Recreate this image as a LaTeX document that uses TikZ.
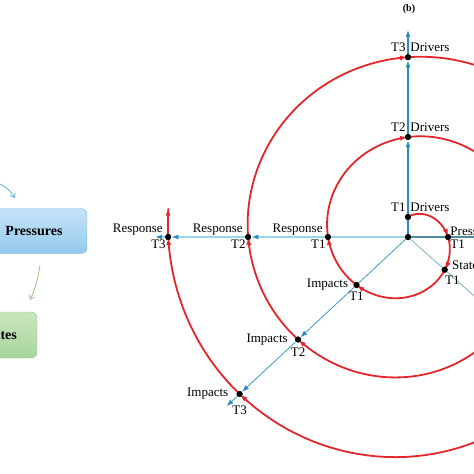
\documentclass[tikz,border=0pt]{standalone}
\usepackage{fontspec}
\setmainfont{Liberation Serif}
\usetikzlibrary{arrows.meta,positioning}
\definecolor{spiralred}{HTML}{E3262B}
\definecolor{axisblue}{HTML}{2A8CC4}
\definecolor{resplight}{HTML}{9AD6EA}
\definecolor{pressteal}{HTML}{4E8C98}
\definecolor{stategrey}{HTML}{8DB8C0}
\definecolor{impteal}{HTML}{3A9CC0}
\definecolor{boxtop}{HTML}{C6E4F8}
\definecolor{boxbot}{HTML}{93C9EC}
\definecolor{boxline}{HTML}{7DB6DC}
\definecolor{greentop}{HTML}{C8E6BE}
\definecolor{greenbot}{HTML}{A8D59C}
\definecolor{greenline}{HTML}{92C787}
\tikzset{
  dot/.style={circle,fill=black,inner sep=0pt,minimum size=6pt},
  lbl/.style={inner sep=0pt,font=\fontsize{13}{15}\selectfont},
  spiral/.style={spiralred,line width=1.8pt,-{Latex[length=8pt,width=5pt]}},
  axtip/.style={-{Latex[length=7pt,width=5pt,color=axisblue]}}
}
\begin{document}
\begin{tikzpicture}[x=1pt,y=1pt]
    \useasboundingbox (-408,-237) rectangle (66,237);
    \clip (-408,-237) rectangle (66,237);
    % left flow chart, cut at the edge
    \node [rounded corners=6pt,draw=boxline,top color=boxtop,bottom color=boxbot,
           minimum width=106pt,minimum height=45pt,font=\fontsize{14}{16}\selectfont\bfseries] (press) at (-374,6) {Pressures};
    \node [rounded corners=6pt,draw=greenline,top color=greentop,bottom color=greenbot,
           minimum width=76pt,minimum height=46pt,font=\fontsize{14}{16}\selectfont\bfseries] (states) at (-409,-98) {States};
    \coordinate (flowin) at (-425,56);
    \coordinate (flowtip) at (-393,39);
    \draw [impteal!80,line width=0.8pt,-{Straight Barb[length=4pt,width=6pt]}] (flowin) to[bend left=30] (flowtip);
    \coordinate (gfrom) at (-368,-28);
    \coordinate (gto) at (-378,-63);
    \draw [greenline,line width=0.8pt,-{Straight Barb[length=4pt,width=6pt]}] (gfrom) to[bend left=8] (gto);
    \node [inner sep=0pt,font=\fontsize{10}{11}\selectfont\bfseries] (title) at (1,228) {(b)};
    % points on the spiral
    \node [dot] (O) at (0,0) {};
    \node [dot] (D1) at (90:20) {};
    \node [dot] (P1) at (0:40) {};
    \node [dot] (S1) at (-41.7:49.2) {};
    \node [dot] (I1) at (223:70.4) {};
    \node [dot] (R1) at (180:80) {};
    \node [dot] (D2) at (90:100) {};
    \node [dot] (I2) at (223:150.3) {};
    \node [dot] (R2) at (180:159.9) {};
    \node [dot] (D3) at (90:179.8) {};
    \node [dot] (I3) at (223:230.2) {};
    \node [dot] (R3) at (180:239.8) {};
    \coordinate (Dend) at (90:207);
    \coordinate (Pend) at (0:80);
    \coordinate (Send) at (-41.7:120);
    \coordinate (Iend) at (223:248);
    \coordinate (Rend) at (180:253);
    % axes
    \draw [pressteal,line width=1.4pt] (O) -- (Pend);
    \draw [stategrey,line width=0.9pt] (O) -- (Send);
    \draw [axisblue,line width=1.2pt] (O) -- (D1);
    \draw [axisblue,line width=1.2pt,axtip] (D1) -- (D2);
    \draw [axisblue,line width=1.2pt,axtip] (D2) -- (D3);
    \draw [axisblue,line width=1.2pt,axtip] (D3) -- (Dend);
    \draw [resplight,line width=1.3pt] (O) -- (R1);
    \draw [resplight,line width=1.3pt,axtip] (R1) -- (R2);
    \draw [resplight,line width=1.3pt,axtip] (R2) -- (R3);
    \draw [resplight,line width=1.3pt,axtip] (R3) -- (Rend);
    \draw [impteal,line width=0.8pt] (O) -- (I1);
    \draw [impteal,line width=0.8pt,axtip] (I1) -- (I2);
    \draw [impteal,line width=0.8pt,axtip] (I2) -- (I3);
    \draw [impteal,line width=0.8pt,axtip] (I3) -- (Iend);
    % spiral, one piece per step
    \foreach \a/\b in {0/90,90/131.7,131.7/227,227/270,270/360,360/450,450/491.7,491.7/587,
                       587/630,630/720,720/810,810/851.7,851.7/947,947/990,990/997}
        \draw [spiral] plot[domain=\a:\b,samples=40] ({(20+0.222*\x)*sin(\x)},{(20+0.222*\x)*cos(\x)});
    \foreach \p in {O,D1,P1,S1,I1,R1,D2,I2,R2,D3,I3,R3}
        \fill (\p) circle (3pt);
    % labels
    \node [lbl,above left=3pt and 0pt of D1] (d1t) {T1};
    \node [lbl,above right=3pt and 0pt of D1] (d1n) {Drivers};
    \node [lbl,above left=3pt and 0pt of D2] (d2t) {T2};
    \node [lbl,above right=3pt and 0pt of D2] (d2n) {Drivers};
    \node [lbl,above left=3pt and 0pt of D3] (d3t) {T3};
    \node [lbl,above right=3pt and 0pt of D3] (d3n) {Drivers};
    \node [lbl,above right=-1pt and 0pt of P1] (p1n) {Pressures};
    \node [lbl,below right=0pt and 0pt of P1] (p1t) {T1};
    \node [lbl,above right=-2pt and 5pt of S1] (s1n) {States};
    \node [lbl,below right=4pt and -2pt of S1] (s1t) {T1};
    \node [lbl,left=5pt of I1] (i1n) {Impacts};
    \node [lbl,below=4pt of I1] (i1t) {T1};
    \node [lbl,left=7pt of I2] (i2n) {Impacts};
    \node [lbl,below=5pt of I2] (i2t) {T2};
    \node [lbl,left=8pt of I3] (i3n) {Impacts};
    \node [lbl,below=8pt of I3] (i3t) {T3};
    \node [lbl,above left=-1pt and 3pt of R1] (r1n) {Response};
    \node [lbl,below left=0pt and 0pt of R1] (r1t) {T1};
    \node [lbl,above left=-1pt and 3pt of R2] (r2n) {Response};
    \node [lbl,below left=0pt and 0pt of R2] (r2t) {T2};
    \node [lbl,above left=-1pt and 3pt of R3] (r3n) {Response};
    \node [lbl,below left=0pt and 0pt of R3] (r3t) {T3};
\end{tikzpicture}
\end{document}
